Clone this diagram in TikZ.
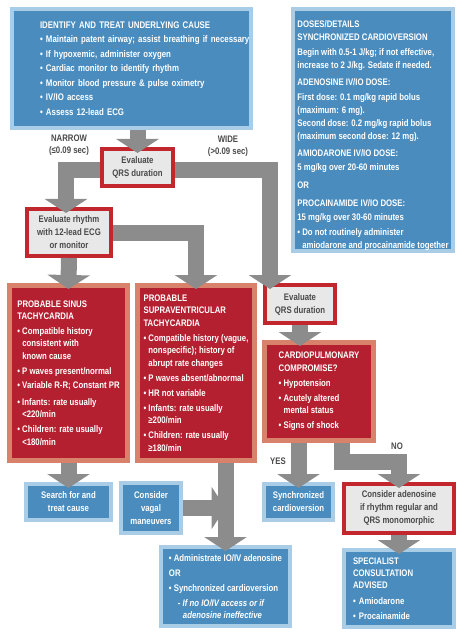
\documentclass[tikz,border=0pt]{standalone}
\usepackage{fontspec}
\setmainfont{Liberation Sans}[FakeStretch=0.82]
\usepackage{tikz}
\usetikzlibrary{arrows.meta,positioning,calc}
\definecolor{boxblue}{HTML}{4A8CBE}
\definecolor{edgeblue}{HTML}{A9CDE6}
\definecolor{boxred}{HTML}{B4202F}
\definecolor{edgesalmon}{HTML}{D9826B}
\definecolor{edgered}{HTML}{C1272D}
\definecolor{softgrey}{HTML}{E8E8E8}
\definecolor{pipegrey}{HTML}{8C8C8C}
\definecolor{ink}{HTML}{4A4A4A}
\newcommand{\bulletgap}{\phantom{•\ }}
\newcommand{\topgap}[1]{\rule{0pt}{#1}}
\tikzset{
    boxsize/.style 2 args={minimum width=#1,minimum height=#2},
    bluebox/.style={draw=edgeblue,fill=boxblue,line width=4pt,inner sep=0pt,
      text=white,align=left,font=\fontsize{9.5}{13}\selectfont\bfseries},
    bluecell/.style={bluebox,align=center},
    redbox/.style={draw=edgesalmon,fill=boxred,line width=5pt,inner sep=0pt,
      text=white,align=left,font=\fontsize{9.5}{12.5}\selectfont\bfseries},
    greycell/.style={draw=edgered,fill=softgrey,line width=4pt,inner sep=0pt,
      text=ink,align=center,font=\fontsize{9.5}{13}\selectfont\bfseries},
    tag/.style={text=ink,align=center,inner sep=1pt,
      font=\fontsize{9.5}{12}\selectfont\bfseries},
    pipe/.style={draw=pipegrey,line width=16pt,line cap=butt,line join=miter,
      -{Triangle[width=42pt,length=14pt]},shorten >=-6pt}
}
\begin{document}
\begin{tikzpicture}[x=1pt,y=-1pt]
  \useasboundingbox (0,0) rectangle (474,636);
  \node[bluebox,boxsize={239pt}{119pt},text width=183pt,
        font=\fontsize{9.6}{14.5}\selectfont\bfseries] (cause) at (131.5,68.5)
    {IDENTIFY AND TREAT UNDERLYING CAUSE\\
     \mbox{• Maintain patent airway; assist breathing if necessary}\\
     • If hypoxemic, administer oxygen\\
     • Cardiac monitor to identify rhythm\\
     • Monitor blood pressure \& pulse oximetry\\
     • IV/IO access\\
     • Assess 12-lead ECG};
  \node[bluebox,boxsize={160pt}{242pt}] (doses) at (373,130)
    {\topgap{19pt}DOSES/DETAILS\\
     SYNCHRONIZED CARDIOVERSION\\[2pt]
     Begin with 0.5-1 J/kg; if not effective,\\
     increase to 2 J/kg. Sedate if needed.\\[4pt]
     ADENOSINE IV/IO DOSE:\\[2pt]
     First dose: 0.1 mg/kg rapid bolus\\
     (maximum: 6 mg).\\
     Second dose: 0.2 mg/kg rapid bolus\\
     (maximum second dose: 12 mg).\\[4pt]
     AMIODARONE IV/IO DOSE:\\[1pt]
     5 mg/kg over 20-60 minutes\\[5pt]
     OR\\[5pt]
     PROCAINAMIDE IV/IO DOSE:\\[1pt]
     15 mg/kg over 30-60 minutes\\[2pt]
     • Do not routinely administer\\
     \bulletgap amiodarone and procainamide together};
  \node[greycell,boxsize={71pt}{37pt}] (qrs) at (137.5,167.5) {Evaluate\\QRS duration};
  \node[tag] (narrow) at (69,145.5) {NARROW\\(≤0.09 sec)};
  \node[tag] (wide) at (228,146.5) {WIDE\\(>0.09 sec)};
  \node[greycell,boxsize={84pt}{47pt}] (rhythm) at (69,232.5) {Evaluate rhythm\\with 12-lead ECG\\or monitor};
  \node[redbox,boxsize={118pt}{175pt}] (sinus) at (68.5,373)
    {PROBABLE SINUS\\
     TACHYCARDIA\\[2pt]
     • Compatible history\\
     \bulletgap consistent with\\
     \bulletgap known cause\\[2.5pt]
     • P waves present/normal\\[2pt]
     • Variable R-R; Constant PR\\[4pt]
     • Infants: rate usually\\
     \bulletgap <220/min\\[2.5pt]
     • Children: rate usually\\
     \bulletgap <180/min};
  \node[redbox,boxsize={117pt}{175pt}] (svt) at (196,373)
    {PROBABLE\\
     SUPRAVENTRICULAR\\
     TACHYCARDIA\\[2.5pt]
     • Compatible history (vague,\\
     \bulletgap nonspecific); history of\\
     \bulletgap abrupt rate changes\\[2.5pt]
     • P waves absent/abnormal\\[2.5pt]
     • HR not variable\\[2.5pt]
     • Infants: rate usually\\
     \bulletgap ≥200/min\\[2.5pt]
     • Children: rate usually\\
     \bulletgap ≥180/min};
  \node[greycell,boxsize={70pt}{38pt}] (qrs2) at (300,304) {Evaluate\\QRS duration};
  \node[redbox,boxsize={109pt}{98pt}] (cardio) at (319,391.5)
    {CARDIOPULMONARY\\
     COMPROMISE?\\[2.5pt]
     • Hypotension\\[2.5pt]
     • Acutely altered\\
     \bulletgap mental status\\[2.5pt]
     • Signs of shock};
  \node[tag] (yes) at (278,461) {YES};
  \node[tag] (no) at (397,446) {NO};
  \node[bluecell,boxsize={85pt}{36pt}] (search) at (68.5,502) {Search for and\\treat cause};
  \node[bluecell,boxsize={60pt}{50pt}] (vagal) at (151,508) {Consider\\vagal\\maneuvers};
  \node[bluecell,boxsize={69pt}{36pt}] (sync) at (298.5,502) {Synchronized\\cardioversion};
  \node[greycell,boxsize={110pt}{49pt}] (cons) at (399,508.5) {Consider adenosine\\if rhythm regular and\\QRS monomorphic};
  \node[bluebox,boxsize={129pt}{79pt},font=\fontsize{9.5}{12.5}\selectfont\bfseries] (adeno) at (225.5,586.5)
    {• Administrate IO/IV adenosine\\[2.5pt]
     OR\\[2.5pt]
     • Synchronized cardioversion\\[2.5pt]
     \hspace*{9pt}\textit{- If no IO/IV access or if}\\
     \hspace*{14pt}\textit{adenosine ineffective}};
  \node[bluebox,boxsize={110pt}{77pt},text width=92pt,font=\fontsize{9.5}{12}\selectfont\bfseries] (spec) at (399,588.5)
    {SPECIALIST\\
     CONSULTATION\\
     ADVISED\\[4pt]
     • Amiodarone\\[3pt]
     • Procainamide};
  \draw[pipe] (qrs.north |- cause.south) -- (qrs.north);
  \draw[pipe] ([yshift=-2.5pt]qrs.west) -| ([xshift=-3pt]rhythm.north);
  \draw[pipe] ([yshift=-2.5pt]qrs.east) -| ([xshift=7pt]qrs2.north west);
  \draw[pipe] (rhythm.east) -| (svt.north);
  \draw[pipe] (rhythm.south) -- (sinus.north);
  \draw[pipe] (sinus.south) -- (search.north);
  \draw[pipe] (svt.south -| adeno.north) -- (adeno.north);
  \draw[pipe,shorten >=0pt] (vagal.east) -- (vagal.east -| adeno.north);
  \draw[pipe] (qrs2.south) -- (qrs2.south |- cardio.north);
  \draw[pipe] (sync.north |- cardio.south) -- (sync.north);
  \draw[pipe] ([xshift=23pt]cardio.south) -- ++(0,19) -| (cons.north);
  \draw[pipe] (cons.south) -- (spec.north);
\end{tikzpicture}
\end{document}
